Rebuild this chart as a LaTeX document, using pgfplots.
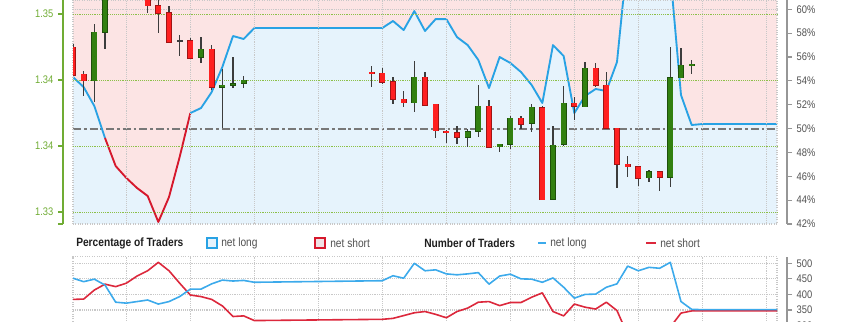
\documentclass[border=0pt]{standalone}
\usepackage{fontspec}
\setmainfont[FakeStretch=0.85]{Liberation Sans}
\usepackage{pgfplots}
\usepackage{pgfplotstable}
\pgfplotsset{compat=1.18}
\pgfplotsset{/pgf/number format/assume math mode=true}

\definecolor{shortpink}{RGB}{252,228,228}
\definecolor{longfill}{RGB}{230,243,252}
\definecolor{lineblue}{RGB}{40,162,228}
\definecolor{linered}{RGB}{214,24,44}
\definecolor{cred}{RGB}{255,32,32}
\definecolor{credout}{RGB}{160,20,20}
\definecolor{cgreen}{RGB}{50,128,16}
\definecolor{cgreenout}{RGB}{30,80,10}
\definecolor{wick}{RGB}{60,60,60}
\definecolor{gridgreen}{RGB}{140,192,72}
\definecolor{axgreen}{RGB}{112,172,52}
\definecolor{gridgray}{RGB}{200,200,200}
\definecolor{midgray}{RGB}{120,120,120}
\definecolor{axgray}{RGB}{150,150,150}
\definecolor{labgray}{RGB}{80,80,80}
\definecolor{legdark}{RGB}{30,30,30}
\definecolor{nblue}{RGB}{60,170,235}
\definecolor{nred}{RGB}{220,40,60}
\definecolor{boxpink}{RGB}{240,225,228}

\pgfplotsset{candle/.style={mark=none, only marks, mark size=0pt,
  mark options={draw=none, fill=none}}}

% net long percentage
\pgfplotstableread{
x p
0 54.32
1 53.48
2 51.89
3 49.21
4 46.86
5 45.86
6 45.02
7 44.35
8 42.17
9 44.26
10 47.62
11 51.30
12 51.72
13 53.06
14 55.16
15 57.76
16 57.51
17 58.43
29 58.43
30 59.02
31 58.26
32 59.85
33 58.18
34 59.18
35 59.18
36 57.67
37 57.00
38 55.75
39 53.40
40 56.00
41 55.50
42 54.74
43 53.65
44 52.14
45 57.00
46 56.08
47 51.30
48 52.73
49 53.32
50 53.15
51 55.58
52 64.5
53 65.5
54 65.0
55 64.5
56 63.0
57 52.81
58 50.30
59 50.38
66 50.38
}\pct

% number of traders
\pgfplotstableread{
x long short
0 452 384
1 441 385
2 449 414
3 430 433
4 375 425
5 372 436
6 377 459
7 382 476
8 369 503
9 377 476
10 393 436
11 417 398
12 417 393
13 434 384
14 446 363
15 443 329
16 445 331
17 439 316
29 444 320
30 460 323
31 452 332
32 500 341
33 476 345
34 479 336
35 466 325
36 463 345
37 466 356
38 470 375
39 433 377
40 459 364
41 465 374
42 450 374
43 449 391
44 439 405
45 453 345
46 423 331
47 388 369
48 400 359
49 401 353
50 423 375
51 434 348
52 491 270
53 476 251
54 487 262
55 484 266
56 503 295
57 377 340
58 352 347
59 351 347
66 351 347
}\traders

% candles: red (falling)
\pgfplotstableread{
x o h l c
0 1.34748 1.34773 1.34530 1.34538
1 1.34545 1.34568 1.34381 1.34495
5 1.35400 1.35500 1.35250 1.35300
6 1.35300 1.35400 1.35180 1.35220
7 1.35167 1.35197 1.35010 1.35063
8 1.35063 1.35129 1.34854 1.35005
9 1.35010 1.35060 1.34778 1.34786
11 1.34798 1.34820 1.34661 1.34667
13 1.34733 1.34765 1.34424 1.34445
28 1.34561 1.34608 1.34449 1.34551
29 1.34551 1.34589 1.34467 1.34485
30 1.34485 1.34520 1.34318 1.34354
31 1.34354 1.34417 1.34293 1.34328
33 1.34520 1.34558 1.34303 1.34311
34 1.34316 1.34318 1.34063 1.34116
35 1.34114 1.34121 1.34020 1.34101
36 1.34101 1.34152 1.34013 1.34066
39 1.34303 1.34348 1.33988 1.33990
42 1.34210 1.34227 1.34127 1.34167
44 1.34293 1.34303 1.33593 1.33596
47 1.34323 1.34373 1.34202 1.34303
49 1.34589 1.34627 1.34449 1.34462
50 1.34462 1.34563 1.34132 1.34134
51 1.34134 1.34136 1.33680 1.33861
52 1.33861 1.33924 1.33763 1.33843
53 1.33843 1.33845 1.33699 1.33755
55 1.33805 1.33810 1.33661 1.33763
}\reds

% candles: green (rising)
\pgfplotstableread{
x o h l c
2 1.34495 1.34922 1.34336 1.34861
3 1.34861 1.35295 1.34733 1.35242
4 1.35242 1.35520 1.35200 1.35400
12 1.34672 1.34828 1.34631 1.34733
14 1.34445 1.34583 1.34139 1.34460
15 1.34462 1.34672 1.34437 1.34473
16 1.34475 1.34533 1.34437 1.34500
32 1.34328 1.34646 1.34255 1.34520
37 1.34066 1.34129 1.33990 1.34108
38 1.34114 1.34462 1.34070 1.34301
40 1.33995 1.34015 1.33957 1.34013
41 1.34013 1.34227 1.33975 1.34210
43 1.34172 1.34316 1.34108 1.34293
45 1.33596 1.34152 1.33591 1.34008
46 1.34013 1.34455 1.34000 1.34323
48 1.34298 1.34639 1.34296 1.34589
54 1.33760 1.33818 1.33725 1.33805
56 1.33763 1.34748 1.33692 1.34517
57 1.34517 1.34740 1.34515 1.34614
58 1.34614 1.34652 1.34545 1.34621
}\greens

% doji
\pgfplotstableread{
x o h l c
10 1.34798 1.34843 1.34682 1.34796
}\dojis

\begin{document}
\begin{tikzpicture}
\useasboundingbox (0,0) rectangle (633.75pt,240.75pt);
\clip (0,0) rectangle (633.75pt,240.75pt);

% ---------- main panel: percentage (fills, line) ----------
\begin{axis}[at={(54.75pt,72.75pt)}, anchor=south west, scale only axis,
  width=528pt, height=168pt,
  xmin=0, xmax=66, ymin=42, ymax=60.78,
  axis background/.style={fill=shortpink},
  axis on top,
  xtick={5,11,...,65}, ytick={60},
  xticklabels={}, yticklabels={}, major tick length=0pt,
  xmajorgrids, ymajorgrids,
  grid style={gridgray, densely dotted, line width=0.8pt},
  axis line style={gridgray, densely dotted, line width=0.8pt}]
\addplot[fill=longfill, draw=none] table[x=x, y=p] {\pct} \closedcycle;
\addplot[midgray, line width=1.4pt, dash pattern=on 6pt off 2.2pt on 2pt off 2.2pt] coordinates {(0,50) (66,50)};
\addplot[lineblue, line width=1.4pt, line join=round, restrict x to domain=0:3] table[x=x, y=p] {\pct};
\addplot[linered, line width=1.4pt, line join=round, restrict x to domain=3:11] table[x=x, y=p] {\pct};
\addplot[lineblue, line width=1.4pt, line join=round, restrict x to domain=11:66] table[x=x, y=p] {\pct};
\end{axis}

% ---------- main panel: price candles ----------
\begin{axis}[at={(54.75pt,72.75pt)}, anchor=south west, scale only axis,
  width=528pt, height=168pt,
  xmin=0, xmax=66, ymin=1.33409, ymax=1.35106,
  xtick=\empty, ytick={1.335,1.34,1.345,1.35},
  yticklabels={}, major tick length=0pt,
  ymajorgrids,
  grid style={gridgreen, densely dotted, line width=0.7pt},
  axis line style={draw=none}]
% wicks
\addplot[candle, error bars/.cd, y dir=both, y explicit, error mark=none,
  error bar style={line width=0.9pt, draw=wick}]
  table[x=x, y expr={(\thisrow{h}+\thisrow{l})/2}, y error expr={(\thisrow{h}-\thisrow{l})/2}] {\reds};
\addplot[candle, error bars/.cd, y dir=both, y explicit, error mark=none,
  error bar style={line width=0.9pt, draw=wick}]
  table[x=x, y expr={(\thisrow{h}+\thisrow{l})/2}, y error expr={(\thisrow{h}-\thisrow{l})/2}] {\greens};
\addplot[candle, error bars/.cd, y dir=both, y explicit, error mark=none,
  error bar style={line width=0.9pt, draw=wick}]
  table[x=x, y expr={(\thisrow{h}+\thisrow{l})/2}, y error expr={(\thisrow{h}-\thisrow{l})/2}] {\dojis};
% bodies
\addplot[candle, error bars/.cd, y dir=both, y explicit, error mark=none,
  error bar style={line width=4.6pt, draw=credout}]
  table[x=x, y expr={(\thisrow{o}+\thisrow{c})/2}, y error expr={abs(\thisrow{o}-\thisrow{c})/2+0.00004}] {\reds};
\addplot[candle, error bars/.cd, y dir=both, y explicit, error mark=none,
  error bar style={line width=3.4pt, draw=cred}]
  table[x=x, y expr={(\thisrow{o}+\thisrow{c})/2}, y error expr={abs(\thisrow{o}-\thisrow{c})/2}] {\reds};
\addplot[candle, error bars/.cd, y dir=both, y explicit, error mark=none,
  error bar style={line width=4.6pt, draw=cgreenout}]
  table[x=x, y expr={(\thisrow{o}+\thisrow{c})/2}, y error expr={abs(\thisrow{o}-\thisrow{c})/2+0.00004}] {\greens};
\addplot[candle, error bars/.cd, y dir=both, y explicit, error mark=none,
  error bar style={line width=3.4pt, draw=cgreen}]
  table[x=x, y expr={(\thisrow{o}+\thisrow{c})/2}, y error expr={abs(\thisrow{o}-\thisrow{c})/2}] {\greens};
\addplot[candle, error bars/.cd, y dir=both, y explicit, error mark=none,
  error bar style={line width=4.6pt, draw=wick}]
  table[x=x, y expr={(\thisrow{o}+\thisrow{c})/2}, y error expr={abs(\thisrow{o}-\thisrow{c})/2+0.00003}] {\dojis};
\end{axis}

% ---------- left price scale ----------
\begin{axis}[at={(47.25pt,72.75pt)}, anchor=south west, scale only axis,
  width=7.5pt, height=168pt,
  xmin=0, xmax=1, ymin=1.33409, ymax=1.35106,
  axis x line=none, axis y line*=left,
  y axis line style={draw=axgreen, line width=1pt, -},
  ytick={1.335,1.34,1.345,1.35}, yticklabels={1.33,1.34,1.34,1.35},
  extra y ticks={1.33409}, extra y tick labels={},
  tick align=outside, major tick length=3.75pt,
  every tick/.style={axgreen, line width=1pt},
  yticklabel style={text=axgreen, font=\fontsize{8.25}{9}\selectfont}]
\end{axis}

% ---------- right percentage scale ----------
\begin{axis}[at={(582.75pt,72.75pt)}, anchor=south west, scale only axis,
  width=7.5pt, height=168pt,
  xmin=0, xmax=1, ymin=42, ymax=60.78,
  axis x line=none, axis y line*=right,
  y axis line style={draw=axgray, line width=0.8pt, -},
  ytick={42,44,...,60},
  yticklabel={\pgfmathprintnumber{\tick}\%},
  tick align=outside, major tick length=3.75pt,
  every tick/.style={axgray, line width=0.8pt},
  yticklabel style={text=labgray, font=\fontsize{8.25}{9}\selectfont}]
\end{axis}

% ---------- bottom panel: number of traders ----------
\begin{axis}[at={(54.75pt,-15.075pt)}, anchor=south west, scale only axis,
  width=528pt, height=63.3pt,
  xmin=0, xmax=66, ymin=250, ymax=521.2,
  xtick={5,11,...,65}, ytick={300,350,...,500},
  xticklabels={}, yticklabels={}, major tick length=0pt,
  xmajorgrids, ymajorgrids,
  grid style={gridgray, densely dotted, line width=0.8pt},
  axis line style={gridgray, densely dotted, line width=0.8pt}]
\addplot[nred, line width=1.2pt, line join=round] table[x=x, y=short] {\traders};
\addplot[nblue, line width=1.2pt, line join=round] table[x=x, y=long] {\traders};
\end{axis}

\begin{axis}[at={(582.75pt,-15.075pt)}, anchor=south west, scale only axis,
  width=7.5pt, height=63.3pt,
  xmin=0, xmax=1, ymin=250, ymax=521.2,
  axis x line=none, axis y line*=right,
  y axis line style={draw=axgray, line width=0.8pt, -},
  ytick={300,350,...,500},
  tick align=outside, major tick length=3.75pt,
  every tick/.style={axgray, line width=0.8pt},
  yticklabel style={text=labgray, font=\fontsize{8.25}{9}\selectfont}]
\end{axis}

% ---------- legend row ----------
\node[anchor=west, inner sep=0, text=legdark, font=\bfseries\fontsize{9}{10}\selectfont] at (57pt,58.5pt) {Percentage of Traders};
\draw[lineblue, fill=longfill, line width=1pt] (155.25pt,54.75pt) rectangle (162.75pt,62.25pt);
\node[anchor=west, inner sep=0, text=labgray, font=\fontsize{9}{10}\selectfont] at (165.75pt,58.5pt) {net long};
\draw[linered, fill=boxpink, line width=1pt] (236.25pt,54.75pt) rectangle (243.75pt,62.25pt);
\node[anchor=west, inner sep=0, text=labgray, font=\fontsize{9}{10}\selectfont] at (247.5pt,58.5pt) {net short};
\node[anchor=west, inner sep=0, text=legdark, font=\bfseries\fontsize{9}{10}\selectfont] at (318pt,58.5pt) {Number of Traders};
\draw[nblue, line width=1.6pt] (403.5pt,58.5pt) -- (409.5pt,58.5pt);
\node[anchor=west, inner sep=0, text=labgray, font=\fontsize{9}{10}\selectfont] at (412.5pt,58.5pt) {net long};
\draw[nred, line width=1.6pt] (484.5pt,58.5pt) -- (492pt,58.5pt);
\node[anchor=west, inner sep=0, text=labgray, font=\fontsize{9}{10}\selectfont] at (495pt,58.5pt) {net short};
\end{tikzpicture}
\end{document}
